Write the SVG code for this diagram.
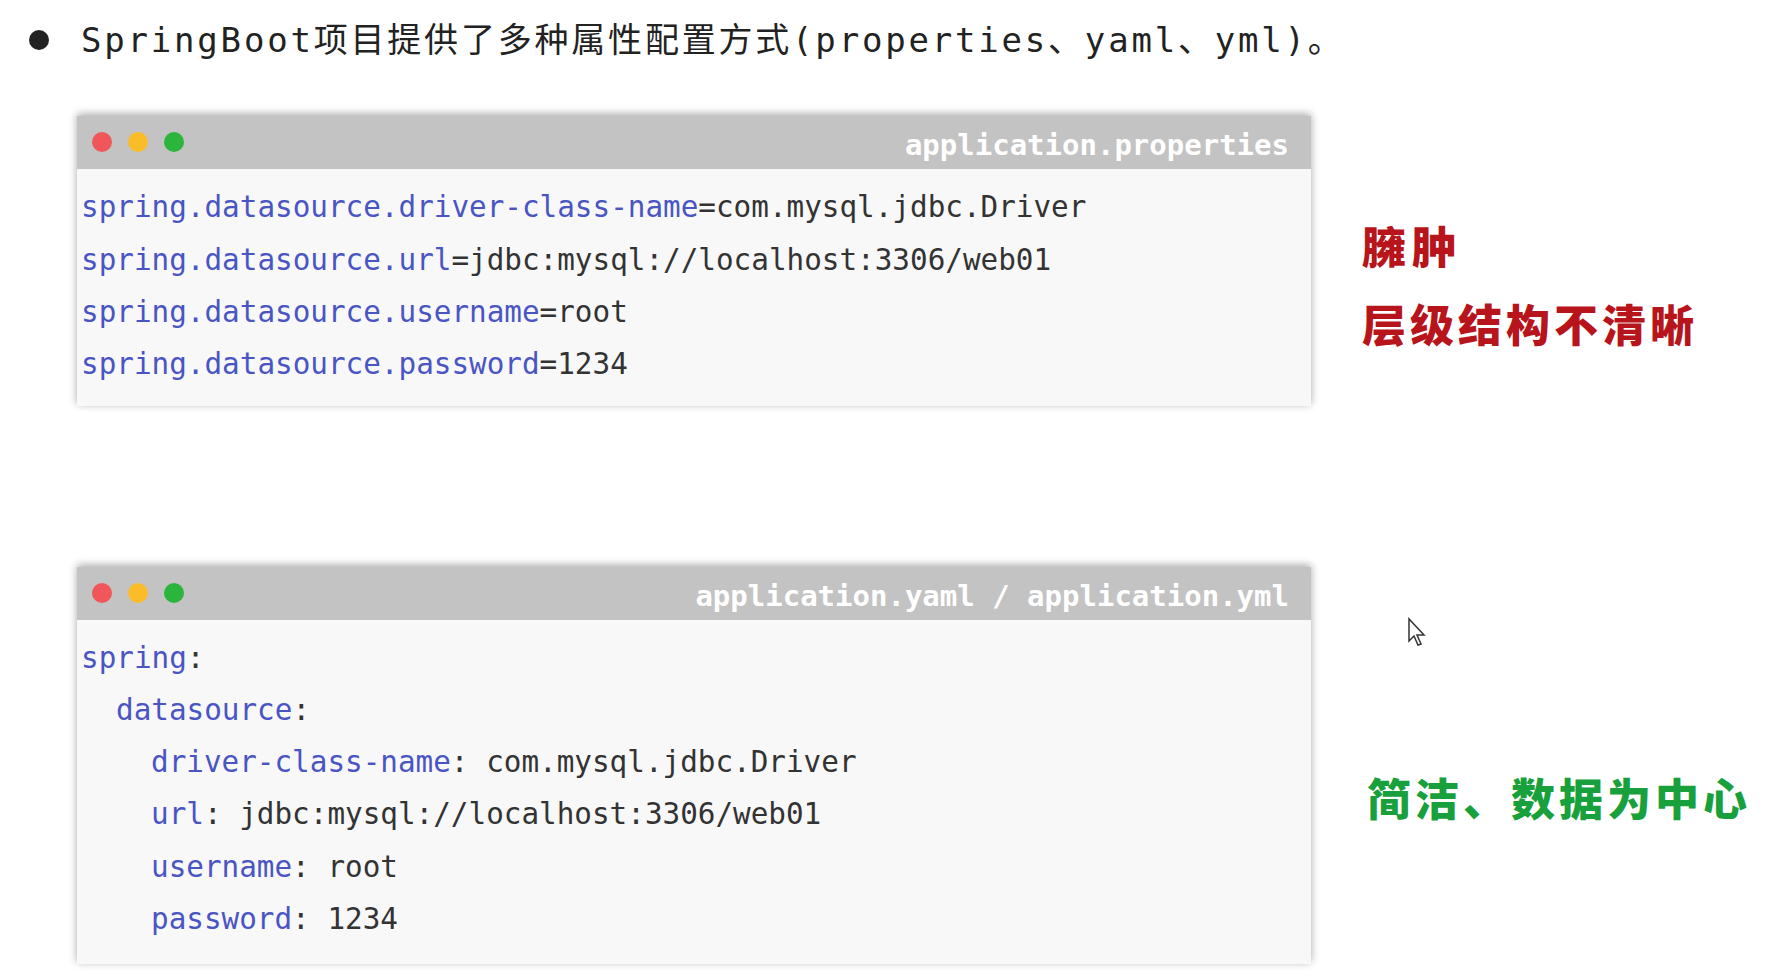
<svg xmlns="http://www.w3.org/2000/svg" width="1768" height="977" viewBox="0 0 1768 977">
<defs>
<filter id="sh" x="-5%" y="-10%" width="110%" height="120%"><feGaussianBlur in="SourceAlpha" stdDeviation="4"/><feOffset dy="-2"/><feComponentTransfer><feFuncA type="linear" slope="0.35"/></feComponentTransfer><feMerge><feMergeNode/><feMergeNode in="SourceGraphic"/></feMerge></filter>
</defs>
<style>
.code{font-family:"DejaVu Sans Mono","Liberation Mono",monospace;font-size:29.3px;fill:#333}
.k{fill:#4a55c4}
.ttl{font-family:"DejaVu Sans Mono","Liberation Mono",monospace;font-size:29px;font-weight:bold;fill:#fff;text-anchor:end}
.hand{font-family:"Noto Sans CJK SC",sans-serif;font-weight:900;font-size:44px}
</style>
<rect width="1768" height="977" fill="#fff"/>
<g id="title">
<circle cx="39" cy="40" r="10" fill="#222"/>
<text x="81" y="52" font-family="DejaVu Sans Mono,'Noto Sans CJK SC',monospace" font-size="34" letter-spacing="2.8" fill="#222">SpringBoot项目提供了多种属性配置方式(properties、yaml、yml)。</text>
</g>
<g id="box1">
<rect x="77" y="116" width="1234" height="290" fill="#f8f8f8" filter="url(#sh)"/>
<rect x="77" y="116" width="1234" height="53" fill="#c3c3c3"/>
<circle cx="102" cy="142" r="10" fill="#f0575a"/><circle cx="138" cy="142" r="10" fill="#fbbc2a"/><circle cx="174" cy="142" r="10" fill="#2cb53c"/>
<text class="ttl" x="1289" y="155">application.properties</text>
<text class="code" x="81" y="217"><tspan class="k">spring.datasource.driver-class-name</tspan>=com.mysql.jdbc.Driver</text>
<text class="code" x="81" y="270"><tspan class="k">spring.datasource.url</tspan>=jdbc:mysql://localhost:3306/web01</text>
<text class="code" x="81" y="322"><tspan class="k">spring.datasource.username</tspan>=root</text>
<text class="code" x="81" y="374"><tspan class="k">spring.datasource.password</tspan>=1234</text>
</g>
<g id="box2">
<rect x="77" y="567" width="1234" height="397" fill="#f8f8f8" filter="url(#sh)"/>
<rect x="77" y="567" width="1234" height="53" fill="#c3c3c3"/>
<circle cx="102" cy="593" r="10" fill="#f0575a"/><circle cx="138" cy="593" r="10" fill="#fbbc2a"/><circle cx="174" cy="593" r="10" fill="#2cb53c"/>
<text class="ttl" x="1289" y="606">application.yaml / application.yml</text>
<text class="code" x="81" y="668"><tspan class="k">spring</tspan>:</text>
<text class="code" x="116" y="720"><tspan class="k">datasource</tspan>:</text>
<text class="code" x="151" y="772"><tspan class="k">driver-class-name</tspan>: com.mysql.jdbc.Driver</text>
<text class="code" x="151" y="824"><tspan class="k">url</tspan>: jdbc:mysql://localhost:3306/web01</text>
<text class="code" x="151" y="877"><tspan class="k">username</tspan>: root</text>
<text class="code" x="151" y="929"><tspan class="k">password</tspan>: 1234</text>
</g>
<g id="notes">
<text class="hand" x="1362" y="264" fill="#b8141c" letter-spacing="6">臃肿</text>
<text class="hand" x="1362" y="342" fill="#b8141c" letter-spacing="4">层级结构不清晰</text>
<text class="hand" x="1367" y="816" fill="#17a03c" letter-spacing="4">简洁、数据为中心</text>
</g>
<g id="cursor">
<path d="M1409 619 L1409 641 L1414 636 L1418 645 L1421 644 L1417 635 L1424 635 Z" fill="#fff" stroke="#333" stroke-width="1.5"/>
</g>
</svg>
